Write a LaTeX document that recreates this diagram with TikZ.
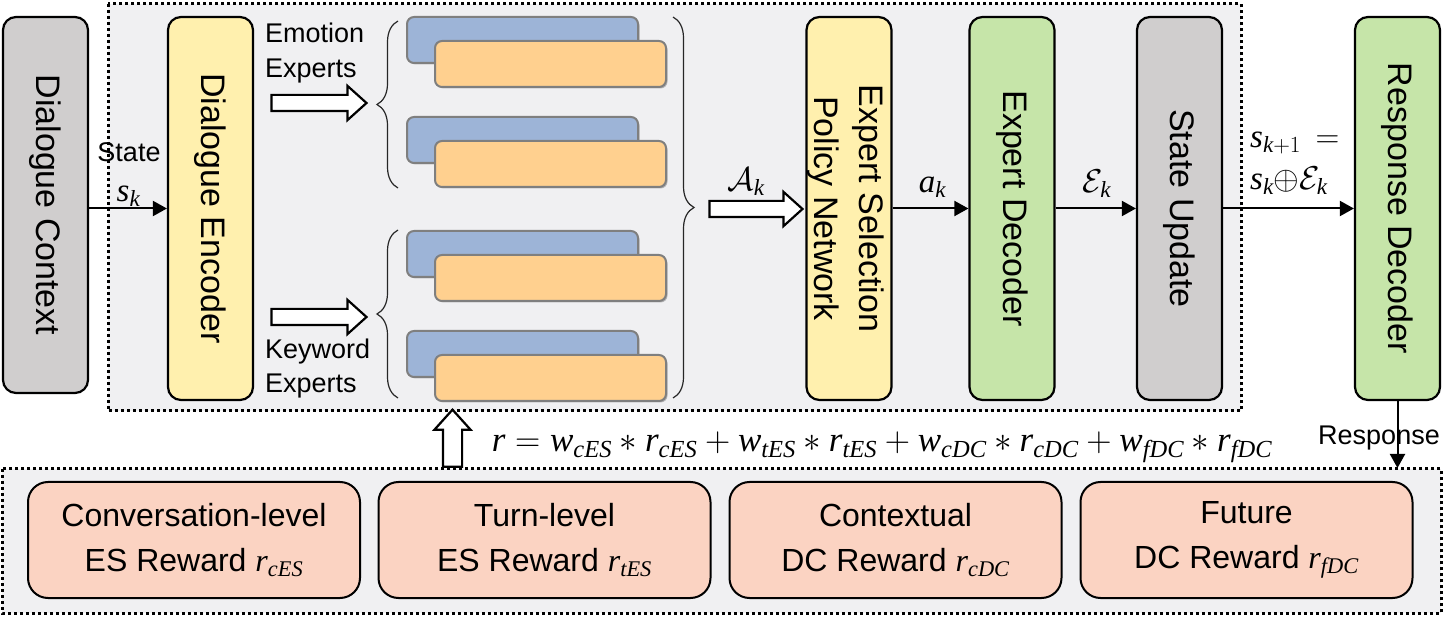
\RequirePackage{fix-cm}
\documentclass[tikz,border=0pt]{standalone}
\usepackage{fontspec}
\setmainfont{Liberation Sans}
\DeclareFontFamily{TU}{lsrit}{}
\DeclareFontShape{TU}{lsrit}{m}{it}{<-> "Liberation Serif/I"}{}
\DeclareSymbolFont{letters}{TU}{lsrit}{m}{it}
\usetikzlibrary{arrows.meta,decorations.pathreplacing,shapes.arrows,shadows}
\definecolor{bgc}{HTML}{F0F0F2}
\definecolor{grayc}{HTML}{D0CECE}
\definecolor{yelc}{HTML}{FFF0AE}
\definecolor{grnc}{HTML}{C6E5A9}
\definecolor{pinkc}{HTML}{FBD3C2}
\definecolor{bluec}{HTML}{9DB4D7}
\definecolor{orgc}{HTML}{FFD08F}
\definecolor{cardline}{HTML}{7F7F7F}
\begin{document}
\begin{tikzpicture}[x=1pt,y=-1pt,
  tall/.style={draw=black, line width=2.2pt, rounded corners=13pt, minimum width=85pt,
    minimum height=383pt, inner sep=0pt, font=\fontsize{34}{40}\selectfont},
  card/.style={draw=cardline, line width=2pt, rounded corners=7pt, minimum width=231pt,
    minimum height=46pt, inner sep=0pt,
    drop shadow={shadow xshift=1.5pt, shadow yshift=-1.5pt, opacity=0.25, fill=black}},
  rew/.style={draw=black, line width=2pt, rounded corners=20pt, fill=pinkc,
    minimum width=332pt, minimum height=116pt, align=center, inner sep=0pt,
    font=\fontsize{32}{45}\selectfont},
  dotbox/.style={line width=3pt, dash pattern=on 3pt off 3pt},
  arr/.style={line width=2pt, -{Triangle[length=14pt,width=15pt]}},
  hollow/.style={single arrow, draw=black, fill=white, line width=2.2pt, inner xsep=0pt,
    inner ysep=7pt, single arrow head extend=9pt, single arrow tip angle=84},
  lab/.style={inner sep=0pt, font=\fontsize{27}{32}\selectfont},
  mlab/.style={inner sep=0pt, font=\fontsize{33}{38}\selectfont},
  brc/.style={decorate, decoration={brace, amplitude=21pt, aspect=0.5}, line width=1.2pt, draw=black!85}
]
\useasboundingbox (0,0) rectangle (1444,617);
% background dotted frames
\draw[dotbox, fill=bgc] (108,4) rectangle (1241,411);
\draw[dotbox, fill=bgc] (2,469) rectangle (1441,613);

% tall boxes
\node[tall, fill=grayc, minimum height=376pt] (dc) at (45.5,205) {\rotatebox{-90}{Dialogue Context}};
\node[tall, fill=yelc] (de) at (210.5,208.5) {\rotatebox{-90}{Dialogue Encoder}};
\node[tall, fill=yelc] (pn) at (849,208.5) {};
\node[rotate=-90, align=center, inner sep=0pt, font=\fontsize{34}{45}\selectfont] (pnt) at ([xshift=-3pt]pn.center) {Expert Selection\\Policy Network};
\node[tall, fill=grnc] (ed) at (1012,208.5) {\rotatebox{-90}{Expert Decoder}};
\node[tall, fill=grayc] (su) at (1179.5,208.5) {\rotatebox{-90}{State Update}};
\node[tall, fill=grnc] (rd) at (1397.5,208.5) {\rotatebox{-90}{Response Decoder}};

% expert cards
\foreach \t [count=\i] in {17,117,231,331} {
  \node[card, fill=bluec] (b\i) at (522.5,{\t+23}) {};
  \node[card, fill=orgc] (o\i) at (550.5,{\t+47}) {};
}

% braces
\draw[brc] (398,188) -- (398,21);
\draw[brc] (398,398) -- (398,230);
\draw[brc] (673,17) -- (673,398);

% expert labels
\node[lab, anchor=base west] (emo1) at (265,43) {Emotion};
\node[lab, anchor=base west] (emo2) at (265,78) {Experts};
\node[lab, anchor=base west] (kw1) at (265,359) {Keyword};
\node[lab, anchor=base west] (kw2) at (265,393) {Experts};

% hollow arrows
\node[hollow, minimum height=95pt] (ha1) at (314.5,103) {};
\node[hollow, minimum height=95pt] (ha2) at (314.5,317) {};
\node[hollow, minimum height=93pt] (ha3) at (751.5,209) {};
\node[hollow, minimum height=57pt, inner ysep=8.5pt, single arrow head extend=8.5pt, rotate=90] (ha4) at (452.5,443.5) {};

% connectors
\draw[arr] (dc.east |- de.west) -- (de.west);
\draw[arr] (pn.east) -- (ed.west);
\draw[arr] (ed.east) -- (su.west);
\draw[arr] (su.east) -- (rd.west);
\coordinate (rtip) at (1397.5,468);
\draw[arr] (rd.south) -- (rtip);

% connector labels
\node[lab, anchor=base] (st) at (129,162) {State};
\node[mlab, anchor=base] (skl) at (128.5,202) {$s_k$};
\node[mlab, anchor=base] (Akl) at (746,191) {$\mathcal{A}_k$};
\node[mlab, anchor=base] (akl) at (932.5,193) {$a_k$};
\node[mlab, anchor=base] (ekl) at (1097,193) {$\mathcal{E}_k$};
\node[mlab, anchor=base west] (sk1) at (1250,148) {$s_{k+1}\,=$};
\node[mlab, anchor=base west] (sk2) at (1250,190) {$s_k{\oplus}\mathcal{E}_k$};
\node[lab, anchor=base] (resp) at (1379,445) {Response};

% formula
\node[inner sep=0pt, anchor=base, font=\fontsize{35}{40}\selectfont] (form) at (882,452)
  {$r = w_{cES} * r_{cES} + w_{tES} * r_{tES} + w_{cDC} * r_{cDC} + w_{fDC} * r_{fDC}$};

% reward boxes
\node[rew] (r1) at (194,540) {Conversation-level\\ES Reward $r_{cES}$};
\node[rew] (r2) at (544.5,540) {Turn-level\\ES Reward $r_{tES}$};
\node[rew] (r3) at (895.5,540) {Contextual\\DC Reward $r_{cDC}$};
\node[rew] (r4) at (1246.5,540) {Future\\DC Reward $r_{fDC}$};
\end{tikzpicture}
\end{document}
